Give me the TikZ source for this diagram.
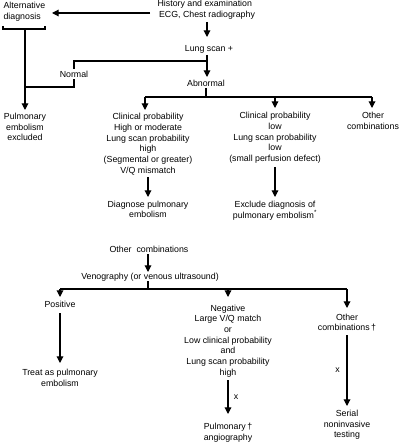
\documentclass[tikz,border=0pt]{standalone}
\usepackage{fontspec}
\setmainfont{Liberation Sans}
\usetikzlibrary{arrows.meta}
\begin{document}
\begin{tikzpicture}[x=0.75pt,y=-0.75pt,
  txt/.style={align=center,inner sep=1pt,font=\fontsize{6.6}{8}\selectfont},
  ln/.style={line width=0.85pt},
  arr/.style={ln,-{Triangle[length=5pt,width=5pt]}}]
\useasboundingbox (0,0) rectangle (400,445);
% ---------- nodes ----------
\node[txt,align=left,anchor=west] (hist) at (156,10) {History and examination\\\,ECG, Chest radiography};
\node[txt,align=left,anchor=west] (alt) at (2,12) {Alternative\\diagnosis};
\node[txt] (lung) at (209,49) {Lung scan +};
\node[txt] (abn) at (206,83) {Abnormal};
\node[txt] (peex) at (25,127) {Pulmonary\\embolism\\excluded};
\node[txt] (cp1) at (148,144) {Clinical probability\\High or moderate\\Lung scan probability\\high\\(Segmental or greater)\\V/Q mismatch};
\node[txt] (diag) at (148,209.5) {Diagnose pulmonary\\embolism};
\node[txt] (cp2) at (275,138) {Clinical probability\\low\\Lung scan probability\\low\\(small perfusion defect)};
\node[txt] (excl) at (275,210.5) {Exclude diagnosis of\\pulmonary embolism\textsuperscript{*}};
\node[txt] (oc1) at (373,121) {Other\\combinations};
\node[txt] (oc2) at (149,249) {Other\ \ combinations};
\node[txt] (ven) at (150,277) {Venography (or venous ultrasound)};
\node[txt] (pos) at (60,304) {Positive};
\node[txt] (neg) at (228,341) {Negative\\Large V/Q match\\or\\Low clinical probability\\and\\Lung scan probability\\high};
\node[txt] (oc3) at (347,322.5) {Other\\combinations\,†};
\node[txt] (treat) at (60,378) {Treat as pulmonary\\embolism};
\node[txt] (pang) at (228,433) {Pulmonary\,†\\angiography};
\node[txt] (serial) at (347,425) {Serial\\noninvasive\\testing};
% ---------- coordinates ----------
\coordinate (hA) at (150,13);  \coordinate (aT) at (52,13);
\coordinate (k1) at (3,26);    \coordinate (k2) at (45,26);
\coordinate (h1) at (207,22);  \coordinate (lT) at (207,37);
\coordinate (l1) at (207,55);  \coordinate (abT) at (207,77);
\coordinate (jl) at (207,61);  \coordinate (jn) at (74,61);
\coordinate (jn2) at (74,87);  \coordinate (ja) at (25,87);
\coordinate (br) at (25,29);   \coordinate (peT) at (25,110);
\coordinate (a1) at (206,88);  \coordinate (jab) at (206,97);
\coordinate (b1) at (145,97);  \coordinate (b1T) at (145,110);
\coordinate (b2) at (275,97);  \coordinate (b2T) at (275,108);
\coordinate (b3) at (372,97);  \coordinate (b3T) at (372,108);
\coordinate (d1) at (148,177); \coordinate (d1T) at (148,197);
\coordinate (e1) at (275,167); \coordinate (e1T) at (275,197);
\coordinate (o1) at (148,254); \coordinate (o1T) at (148,272);
\coordinate (v1) at (148,281); \coordinate (jv) at (148,289);
\coordinate (c1) at (60,289);  \coordinate (c1T) at (60,297);
\coordinate (c2) at (228,289); \coordinate (c2T) at (228,297);
\coordinate (c3) at (347,289); \coordinate (c3T) at (347,308);
\coordinate (p1) at (60,313);  \coordinate (p1T) at (60,363);
\coordinate (n1) at (228,380); \coordinate (n1T) at (228,414);
\coordinate (q1) at (347,335); \coordinate (q1T) at (347,406);
% ---------- connectors ----------
\draw[arr] (hA) -- (aT);
\draw[ln] (k1) -- ++(0,3) -| (k2);
\draw[arr] (h1) -- (lT);
\draw[arr] (l1) -- (abT);
\draw[ln] (jl) -- (jn) -- node[txt,fill=white] (normal) {Normal} (jn2) -- (ja);
\draw[arr] (br) -- (peT);
\draw[ln] (a1) -- (jab);
\draw[ln] (b1) -- (b3);
\draw[arr] (b1) -- (b1T);
\draw[arr] (b2) -- (b2T);
\draw[arr] (b3) -- (b3T);
\draw[arr] (d1) -- (d1T);
\draw[arr] (e1) -- (e1T);
\draw[arr] (o1) -- (o1T);
\draw[ln] (v1) -- (jv);
\draw[ln] (c1) -- (c3);
\draw[arr] (c1) -- (c1T);
\draw[arr] (c2) -- (c2T);
\draw[arr] (c3) -- (c3T);
\draw[arr] (p1) -- (p1T);
\draw[arr] (n1) -- node[txt,right=3pt] (x1) {x} (n1T);
\draw[arr] (q1) -- node[txt,left=4pt] (x2) {x} (q1T);
\end{tikzpicture}
\end{document}
